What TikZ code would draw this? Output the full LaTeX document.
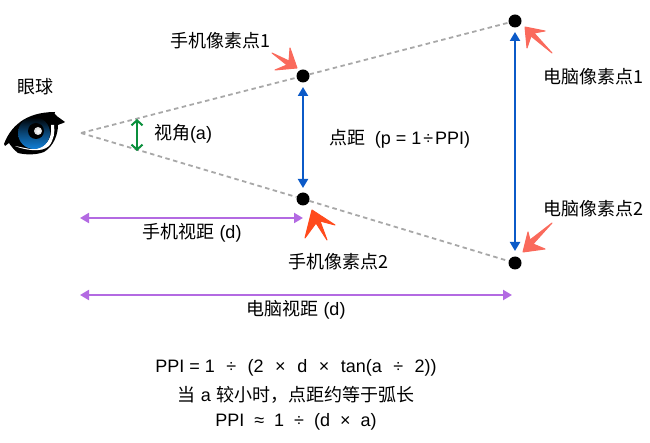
\documentclass[tikz,border=0pt]{standalone}
\usepackage{fontspec}
\setmainfont{Liberation Sans}
\newfontfamily\cjk{Noto Sans CJK SC}
\usetikzlibrary{arrows.meta}
\definecolor{sightgray}{HTML}{A8A8A8}
\definecolor{bluearrow}{HTML}{0B5AC8}
\definecolor{greenarrow}{HTML}{0A8F3C}
\definecolor{purplearrow}{HTML}{B36AE2}
\definecolor{redmark}{HTML}{FA6A5C}
\definecolor{orangemark}{HTML}{FF4A1C}
\definecolor{irisblue}{HTML}{1280D8}
\newcommand{\gap}{\hspace{11.5pt}}
\newcommand{\gapb}{\hspace{10pt}}
\tikzset{
  pixel/.style={circle, fill=black, minimum size=13pt, inner sep=0pt},
  label/.style={inner sep=0pt, yshift=-1pt, font=\fontsize{18}{21}\selectfont},
  sight/.style={draw=sightgray, line width=1.8pt, dash pattern=on 4.5pt off 3.5pt},
  span/.style={<->, >={Triangle[length=9pt,width=10pt]}, line width=2pt},
  mark/.style={line join=round, draw=#1, fill=#1, line width=1pt},
}
\begin{document}
\begin{tikzpicture}[x=1pt, y=-1pt]
        \useasboundingbox (0,0) rectangle (650,443);

        \coordinate (eye) at (81,133);
        \node[pixel] (phone1) at (303,76) {};
        \node[pixel] (phone2) at (303,199) {};
        \node[pixel] (pc1) at (515,21) {};
        \node[pixel] (pc2) at (515,263) {};

        \draw[sight] (eye) -- (phone1) -- (pc1);
        \draw[sight] (eye) -- (phone2) -- (pc2);

        % spans
        \draw[span, bluearrow] (phone1) ++(0,11) coordinate (b1) -- (303,188) coordinate (b2);
        \draw[span, bluearrow] (pc1) ++(0,11) coordinate (b3) -- (515,251) coordinate (b4);
        \coordinate (g1) at (137,119);
        \coordinate (g2) at (137,151);
        \draw[span, greenarrow, >={Straight Barb[length=5pt,width=11pt]}] (g1) -- (g2);
        \coordinate (d1) at (80,218);
        \coordinate (d2) at (303,218);
        \coordinate (d3) at (80,295);
        \coordinate (d4) at (512,295);
        \draw[span, purplearrow] (d1) -- (d2);
        \draw[span, purplearrow] (d3) -- (d4);

        % hand drawn marks
        \fill[mark=redmark] (297,68) -- (290,48) -- (289,61) -- (272,53) -- (287,65) -- (275,70) -- cycle;
        \fill[mark=redmark] (525,27) -- (545,31) -- (534,33) -- (552,53) -- (531,36) -- (527,48) -- cycle;
        \fill[mark=orangemark] (312,210) -- (335,225) -- (320,221) -- (327,240) -- (316,223) -- (305,238) -- cycle;
        \fill[mark=redmark] (523,252) -- (528,232) -- (530,240) -- (552,223) -- (533,244) -- (545,249) -- cycle;

        % eye
        \fill[black] (4,144) .. controls (10,128) and (24,112) .. (55,112)
              .. controls (52,114) and (60,118) .. (65,122)
              .. controls (62,124) and (59,124) .. (58,125)
              .. controls (58,134) and (54,146) .. (44,152)
              .. controls (36,155) and (26,155) .. (18,153)
              .. controls (14,150) and (11,146) .. (9,143) -- (5,146) -- cycle;
        \fill[white] (15,146) .. controls (24,150) and (42,153) .. (49,146)
              .. controls (54,140) and (55,132) .. (54,125) -- (51,125)
              .. controls (53,140) and (44,150) .. (30,149) -- cycle;
        \shade[top color=black, bottom color=irisblue, middle color=irisblue!55!black] (34,133) circle (16pt);
        \fill[black] (36,131) circle (8pt);
        \shade[inner color=white, outer color=white!70!gray] (38,131) circle (4pt);

        % labels
        \node[label] (eyelabel) at (35,86) {\cjk 眼球};
        \node[label] (phone1label) at (220,40) {\cjk 手机像素点1};
        \node[label] (pc1label) at (593,76) {\cjk 电脑像素点1};
        \node[label] (anglelabel) at (183,133) {{\cjk 视角}(a)};
        \node[label] (pitchlabel) at (400,138) {{\cjk 点距}\hspace{9pt}(p = 1\hspace{2pt}÷\hspace{2pt}PPI)};
        \node[label] (phonedist) at (192,232) {{\cjk 手机视距} (d)};
        \node[label] (phone2label) at (338,261) {\cjk 手机像素点2};
        \node[label] (pc2label) at (593,208) {\cjk 电脑像素点2};
        \node[label] (pcdist) at (296,309) {{\cjk 电脑视距} (d)};
        \node[label] (formula1) at (296,367) {PPI = 1\gap÷\gap(2\gap×\gap d\gap×\gap tan(a\gap÷\gap2))};
        \node[label] (formula2) at (296,394) {{\cjk 当} a {\cjk 较小时，点距约等于弧长}};
        \node[label] (formula3) at (296,421) {PPI\gapb≈\gapb1\gapb÷\gapb(d\gapb×\gapb a)};
    \end{tikzpicture}
\end{document}
